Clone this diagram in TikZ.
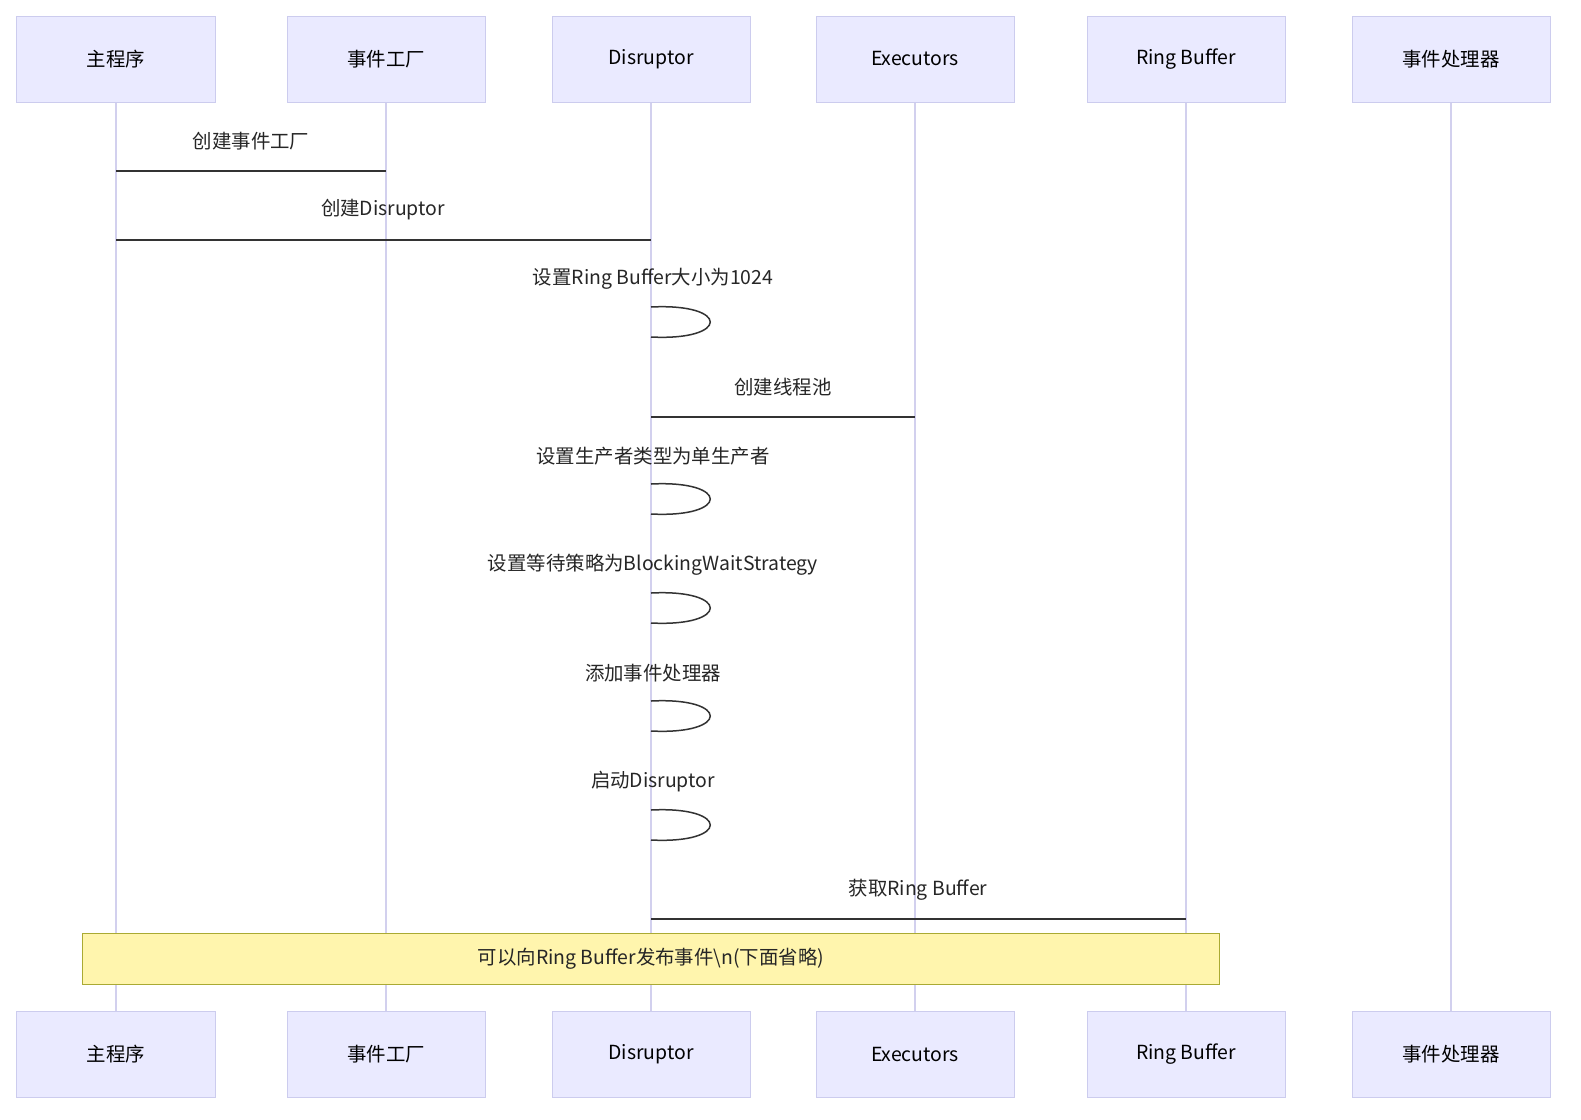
\documentclass[tikz,border=0pt]{standalone}
\usepackage{fontspec}
\setmainfont{Noto Sans CJK SC}
\begin{document}
\begin{tikzpicture}[x=1bp,y=-1bp,
  actor/.style={draw=actB,fill=actF,line width=1bp,minimum width=198bp,minimum height=86bp,font=\fontsize{19.5}{22}\selectfont},
  life/.style={draw=lifeC,line width=2bp},
  msg/.style={draw=black!80,line width=1.5bp},
  lbl/.style={font=\fontsize{19.5}{22}\selectfont,text=black!85}]
\definecolor{actB}{HTML}{CCCCEE}\definecolor{actF}{HTML}{EAEAFF}
\definecolor{lifeC}{HTML}{D2D0EE}
\definecolor{noteF}{HTML}{FFF5AD}\definecolor{noteB}{HTML}{AAAA33}
\useasboundingbox (0,0) rectangle (1581,1119);
\fill[white] (0,0) rectangle (1581,1119);
\foreach \n/\x/\t in {a/116/主程序,b/386/事件工厂,c/651/Disruptor,d/915/Executors,e/1186/Ring Buffer,f/1451/事件处理器}{
  \draw[life] (\x,102) -- (\x,1011);
  \node[actor] (\n1) at (\x,59) {\t};
  \node[actor] (\n2) at (\x,1054) {\t};
}
\coordinate (m1a) at (116,171); \coordinate (m1b) at (386,171);
\draw[msg] (m1a) -- (m1b); \node[lbl] (l1) at (251,141) {创建事件工厂};
\coordinate (m2a) at (116,240); \coordinate (m2b) at (651,240);
\draw[msg] (m2a) -- (m2b); \node[lbl] (l2) at (383,210) {创建Disruptor};
\coordinate (m4a) at (651,417); \coordinate (m4b) at (915,417);
\draw[msg] (m4a) -- (m4b); \node[lbl] (l4) at (783,387) {创建线程池};
\coordinate (m9a) at (651,919); \coordinate (m9b) at (1186,919);
\draw[msg] (m9a) -- (m9b); \node[lbl] (l9) at (918,890) {获取Ring Buffer};
\foreach \n/\y/\t in {3/279/设置Ring Buffer大小为1024,5/456/设置生产者类型为单生产者,6/565/设置等待策略为BlockingWaitStrategy,7/673/添加事件处理器,8/782/启动Disruptor}{
  \node[lbl] (l\n) at (653,\y) {\t};
  \coordinate (s\n a) at (651,\y+28); \coordinate (s\n b) at (651,\y+58);
  \draw[msg] (s\n a) .. controls (730,\y+24) and (730,\y+62) .. (s\n b);
}
\node[draw=noteB,fill=noteF,line width=1bp,minimum width=1136bp,minimum height=51bp,lbl] (note) at (651,958.5) {可以向Ring Buffer发布事件\textbackslash n(下面省略)};
\end{tikzpicture}
\end{document}
